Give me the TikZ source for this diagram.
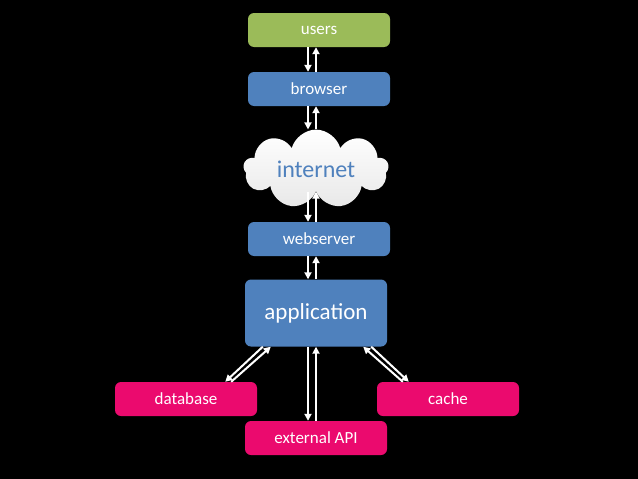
\documentclass[tikz,border=0pt]{standalone}
\usepackage{fontspec}
\setmainfont{Carlito}
\usetikzlibrary{shapes.symbols,arrows.meta}
\definecolor{gr}{HTML}{9BBB59}
\definecolor{bl}{HTML}{4F81BD}
\definecolor{pk}{HTML}{EB0A6E}
\begin{document}
\begin{tikzpicture}[x=1pt,y=-1pt,
  box/.style={rounded corners=6pt,text=white,font=\fontsize{17}{20}\selectfont,minimum width=142pt,minimum height=34pt,inner sep=0pt},
  arr/.style={white,line width=2pt,-{Triangle[length=7pt,width=7pt]}}]
\fill[black] (0,0) rectangle (638,479);
\useasboundingbox (0,0) rectangle (638,479);
\coordinate (cl) at (308,0);
\coordinate (cr) at (316,0);
\node[box,fill=gr] (users) at (319,30) {users};
\node[box,fill=bl] (browser) at (319,89) {browser};
\node[cloud,cloud puffs=9,aspect=2.1,minimum width=145pt,minimum height=78pt,top color=white,bottom color=gray!18,draw=none,text=bl,font=\fontsize{24}{26}\selectfont,inner sep=0pt] (net) at (316,169) {internet};
\node[box,fill=bl] (web) at (319,239) {webserver};
\node[box,fill=bl,minimum height=67pt,font=\fontsize{23}{26}\selectfont] (app) at (316,313) {application};
\node[box,fill=pk] (db) at (186,399) {database};
\node[box,fill=pk] (cache) at (448,399) {cache};
\node[box,fill=pk] (api) at (316,438) {external API};
\foreach \a/\b in {users/browser,browser/net,net/web,web/app,app/api}{
  \draw[arr] (\a.south -| cl) -- (\b.north -| cl);
  \draw[arr] (\b.north -| cr) -- (\a.south -| cr);
}
\draw[arr] ([xshift=18pt]app.south west) -- ([xshift=-32pt]db.north east);
\draw[arr] ([xshift=-26pt]db.north east) -- ([xshift=26pt]app.south west);
\draw[arr] ([xshift=-16pt]app.south east) -- ([xshift=32pt]cache.north west);
\draw[arr] ([xshift=26pt]cache.north west) -- ([xshift=-24pt]app.south east);
\end{tikzpicture}
\end{document}
